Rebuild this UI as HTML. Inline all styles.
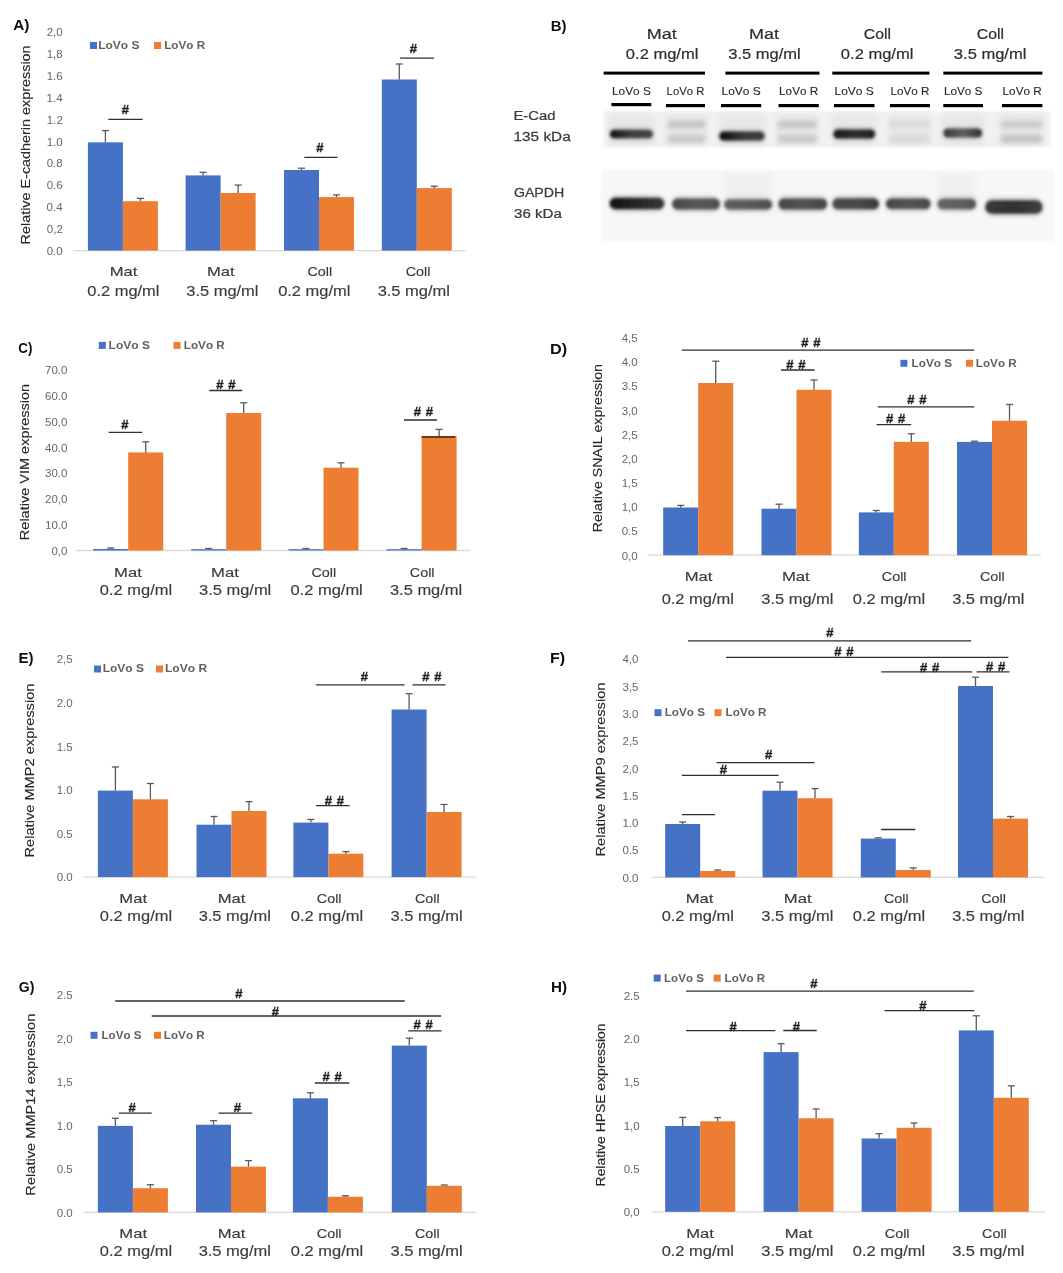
<!DOCTYPE html>
<html><head><meta charset="utf-8"><title>Figure</title>
<style>
html,body{margin:0;padding:0;background:#fff;width:1063px;height:1273px;overflow:hidden}
svg{display:block}
text{font-family:"Liberation Sans",sans-serif;font-kerning:none;white-space:pre}
</style></head><body>
<svg width="1063" height="1273" viewBox="0 0 1063 1273">
<defs>
<filter id="bl" x="-20%" y="-80%" width="140%" height="260%"><feGaussianBlur stdDeviation="1.5"/></filter>
<filter id="bl2" x="-5%" y="-20%" width="110%" height="140%"><feGaussianBlur stdDeviation="1.0"/></filter>
<filter id="bl4" x="-20%" y="-80%" width="140%" height="260%"><feGaussianBlur stdDeviation="1.8"/></filter>
<filter id="bl5" x="-20%" y="-100%" width="140%" height="300%"><feGaussianBlur stdDeviation="2.3"/></filter>
<filter id="bl3" x="-20%" y="-20%" width="140%" height="140%"><feGaussianBlur stdDeviation="2.0"/></filter>
<filter id="soft" x="0" y="0" width="1063" height="1273" filterUnits="userSpaceOnUse"><feGaussianBlur stdDeviation="0.4"/></filter>
<linearGradient id="g1" x1="0" x2="1" y1="0" y2="0"><stop offset="0" stop-color="#141414"/><stop offset="0.5" stop-color="#3e3e3e"/><stop offset="1" stop-color="#484848"/></linearGradient>
<linearGradient id="g2" x1="0" x2="1" y1="0" y2="0"><stop offset="0" stop-color="#0a0a0a"/><stop offset="0.5" stop-color="#383838"/><stop offset="1" stop-color="#404040"/></linearGradient>
<linearGradient id="g3" x1="0" x2="1" y1="0" y2="0"><stop offset="0" stop-color="#181818"/><stop offset="0.5" stop-color="#2e2e2e"/><stop offset="1" stop-color="#202020"/></linearGradient>
<linearGradient id="g4" x1="0" x2="1" y1="0" y2="0"><stop offset="0" stop-color="#383838"/><stop offset="0.5" stop-color="#606060"/><stop offset="1" stop-color="#303030"/></linearGradient>
<linearGradient id="g5" x1="0" x2="1" y1="0" y2="0"><stop offset="0" stop-color="#c6c6c6"/><stop offset="0.5" stop-color="#c6c6c6"/><stop offset="1" stop-color="#c6c6c6"/></linearGradient>
<linearGradient id="g6" x1="0" x2="1" y1="0" y2="0"><stop offset="0" stop-color="#cbcbcb"/><stop offset="0.5" stop-color="#cbcbcb"/><stop offset="1" stop-color="#cbcbcb"/></linearGradient>
<linearGradient id="g7" x1="0" x2="1" y1="0" y2="0"><stop offset="0" stop-color="#c8c8c8"/><stop offset="0.5" stop-color="#c8c8c8"/><stop offset="1" stop-color="#c8c8c8"/></linearGradient>
<linearGradient id="g8" x1="0" x2="1" y1="0" y2="0"><stop offset="0" stop-color="#cbcbcb"/><stop offset="0.5" stop-color="#cbcbcb"/><stop offset="1" stop-color="#cbcbcb"/></linearGradient>
<linearGradient id="g9" x1="0" x2="1" y1="0" y2="0"><stop offset="0" stop-color="#dcdcdc"/><stop offset="0.5" stop-color="#dcdcdc"/><stop offset="1" stop-color="#dcdcdc"/></linearGradient>
<linearGradient id="g10" x1="0" x2="1" y1="0" y2="0"><stop offset="0" stop-color="#dadada"/><stop offset="0.5" stop-color="#dadada"/><stop offset="1" stop-color="#dadada"/></linearGradient>
<linearGradient id="g11" x1="0" x2="1" y1="0" y2="0"><stop offset="0" stop-color="#cccccc"/><stop offset="0.5" stop-color="#cccccc"/><stop offset="1" stop-color="#cccccc"/></linearGradient>
<linearGradient id="g12" x1="0" x2="1" y1="0" y2="0"><stop offset="0" stop-color="#c6c6c6"/><stop offset="0.5" stop-color="#c6c6c6"/><stop offset="1" stop-color="#c6c6c6"/></linearGradient>
<linearGradient id="g13" x1="0" x2="1" y1="0" y2="0"><stop offset="0" stop-color="#101010"/><stop offset="0.5" stop-color="#262626"/><stop offset="1" stop-color="#363636"/></linearGradient>
<linearGradient id="g14" x1="0" x2="1" y1="0" y2="0"><stop offset="0" stop-color="#484848"/><stop offset="0.5" stop-color="#575757"/><stop offset="1" stop-color="#4e4e4e"/></linearGradient>
<linearGradient id="g15" x1="0" x2="1" y1="0" y2="0"><stop offset="0" stop-color="#5e5e5e"/><stop offset="0.5" stop-color="#5a5a5a"/><stop offset="1" stop-color="#4e4e4e"/></linearGradient>
<linearGradient id="g16" x1="0" x2="1" y1="0" y2="0"><stop offset="0" stop-color="#464646"/><stop offset="0.5" stop-color="#525252"/><stop offset="1" stop-color="#444444"/></linearGradient>
<linearGradient id="g17" x1="0" x2="1" y1="0" y2="0"><stop offset="0" stop-color="#4a4a4a"/><stop offset="0.5" stop-color="#4a4a4a"/><stop offset="1" stop-color="#383838"/></linearGradient>
<linearGradient id="g18" x1="0" x2="1" y1="0" y2="0"><stop offset="0" stop-color="#484848"/><stop offset="0.5" stop-color="#545454"/><stop offset="1" stop-color="#484848"/></linearGradient>
<linearGradient id="g19" x1="0" x2="1" y1="0" y2="0"><stop offset="0" stop-color="#656565"/><stop offset="0.5" stop-color="#606060"/><stop offset="1" stop-color="#555555"/></linearGradient>
<linearGradient id="g20" x1="0" x2="1" y1="0" y2="0"><stop offset="0" stop-color="#3a3a3a"/><stop offset="0.5" stop-color="#303030"/><stop offset="1" stop-color="#404040"/></linearGradient>
</defs>
<rect width="1063" height="1273" fill="#fff"/>
<g filter="url(#soft)">
<rect width="1063" height="1273" fill="#fff"/>
<g filter="url(#bl2)">
<rect x="603.5" y="111.2" width="447" height="36" fill="#f1f1f1"/>
<rect x="601" y="170.5" width="454" height="71" fill="#f7f7f7"/>
</g>
<g filter="url(#bl3)">
<rect x="608.5" y="114" width="46" height="31" fill="#e8e8e8"/>
<rect x="665.5" y="114" width="42" height="31" fill="#e8e8e8"/>
<rect x="718.5" y="114" width="47.5" height="31" fill="#e8e8e8"/>
<rect x="775.5" y="114" width="43.5" height="31" fill="#e8e8e8"/>
<rect x="832" y="114" width="44.5" height="31" fill="#e8e8e8"/>
<rect x="888.5" y="114" width="42.5" height="31" fill="#e8e8e8"/>
<rect x="941.5" y="114" width="42.5" height="31" fill="#e8e8e8"/>
<rect x="999" y="114" width="45" height="31" fill="#e8e8e8"/>
<rect x="724" y="172" width="48" height="26" fill="#f0f0f0"/>
<rect x="937" y="172" width="39" height="26" fill="#f0f0f0"/>
</g>
<rect x="609" y="127.5" width="45" height="13" rx="6.5" fill="#c8c8c8" filter="url(#bl5)"/>
<rect x="718.5" y="129.5" width="47" height="13" rx="6.5" fill="#c4c4c4" filter="url(#bl5)"/>
<rect x="832.5" y="127.5" width="43.5" height="13" rx="6.5" fill="#c4c4c4" filter="url(#bl5)"/>
<rect x="942.5" y="126.5" width="40.5" height="13" rx="6.5" fill="#cccccc" filter="url(#bl5)"/>
<rect x="610" y="129.75" width="43" height="8.5" rx="4.25" fill="url(#g1)" filter="url(#bl)"/>
<rect x="719.5" y="131.5" width="45" height="9" rx="4.5" fill="url(#g2)" filter="url(#bl)"/>
<rect x="833.5" y="129.5" width="41.5" height="9" rx="4.5" fill="url(#g3)" filter="url(#bl)"/>
<rect x="943.5" y="128.5" width="38.5" height="9" rx="4.5" fill="url(#g4)" filter="url(#bl)"/>
<rect x="667.7" y="120.5" width="37.8" height="8" rx="4" fill="url(#g5)" filter="url(#bl5)"/>
<rect x="667.7" y="134.55" width="37.8" height="8.5" rx="4.25" fill="url(#g6)" filter="url(#bl5)"/>
<rect x="777.4" y="120.5" width="39.6" height="8" rx="4" fill="url(#g7)" filter="url(#bl5)"/>
<rect x="777.4" y="134.55" width="39.6" height="8.5" rx="4.25" fill="url(#g8)" filter="url(#bl5)"/>
<rect x="889.7" y="120.5" width="39.6" height="8" rx="4" fill="url(#g9)" filter="url(#bl5)"/>
<rect x="889.7" y="134.55" width="39.6" height="8.5" rx="4.25" fill="url(#g10)" filter="url(#bl5)"/>
<rect x="1000.5" y="120.5" width="42" height="8" rx="4" fill="url(#g11)" filter="url(#bl5)"/>
<rect x="1000.5" y="134.55" width="42" height="8.5" rx="4.25" fill="url(#g12)" filter="url(#bl5)"/>
<rect x="608.8" y="194.9" width="56.4" height="17" rx="8.5" fill="#d0d0d0" filter="url(#bl5)"/>
<rect x="671.2" y="195.75" width="49.6" height="16.5" rx="8.25" fill="#d0d0d0" filter="url(#bl5)"/>
<rect x="723.3" y="196.75" width="49.7" height="15.5" rx="7.75" fill="#d0d0d0" filter="url(#bl5)"/>
<rect x="777.5" y="195.75" width="50.5" height="16.5" rx="8.25" fill="#d0d0d0" filter="url(#bl5)"/>
<rect x="831.5" y="195.55" width="48.5" height="16.5" rx="8.25" fill="#d0d0d0" filter="url(#bl5)"/>
<rect x="885" y="195.8" width="46.5" height="16" rx="8" fill="#d0d0d0" filter="url(#bl5)"/>
<rect x="936.5" y="196" width="40.5" height="16" rx="8" fill="#d0d0d0" filter="url(#bl5)"/>
<rect x="984.3" y="197.5" width="59.2" height="19" rx="9.5" fill="#d0d0d0" filter="url(#bl5)"/>
<rect x="609.8" y="197.65" width="54.4" height="11.5" rx="5.75" fill="url(#g13)" filter="url(#bl)"/>
<rect x="672.2" y="198.5" width="47.6" height="11" rx="5.5" fill="url(#g14)" filter="url(#bl)"/>
<rect x="724.3" y="199.5" width="47.7" height="10" rx="5" fill="url(#g15)" filter="url(#bl)"/>
<rect x="778.5" y="198.5" width="48.5" height="11" rx="5.5" fill="url(#g16)" filter="url(#bl)"/>
<rect x="832.5" y="198.3" width="46.5" height="11" rx="5.5" fill="url(#g17)" filter="url(#bl)"/>
<rect x="886" y="198.55" width="44.5" height="10.5" rx="5.25" fill="url(#g18)" filter="url(#bl)"/>
<rect x="937.5" y="198.75" width="38.5" height="10.5" rx="5.25" fill="url(#g19)" filter="url(#bl)"/>
<rect x="985.3" y="200.25" width="57.2" height="13.5" rx="6.75" fill="url(#g20)" filter="url(#bl)"/>
<line x1="73.4" y1="250.6" x2="465.7" y2="250.6" stroke="#D9D9D9" stroke-width="1.3"/>
<text transform="matrix(1 0 0 1 46.66 254.96)" font-size="11.5" font-weight="normal" fill="#666666">0.0</text>
<text transform="matrix(1 0 0 1 46.79 233.09)" font-size="11.5" font-weight="normal" fill="#666666">0,2</text>
<text transform="matrix(1 0 0 1 46.55 211.22)" font-size="11.5" font-weight="normal" fill="#666666">0.4</text>
<text transform="matrix(1 0 0 1 46.72 189.35)" font-size="11.5" font-weight="normal" fill="#666666">0.6</text>
<text transform="matrix(1 0 0 1 46.71 167.48)" font-size="11.5" font-weight="normal" fill="#666666">0.8</text>
<text transform="matrix(1 0 0 1 46.66 145.61)" font-size="11.5" font-weight="normal" fill="#666666">1.0</text>
<text transform="matrix(1 0 0 1 46.79 123.74)" font-size="11.5" font-weight="normal" fill="#666666">1.2</text>
<text transform="matrix(1 0 0 1 46.55 101.87)" font-size="11.5" font-weight="normal" fill="#666666">1.4</text>
<text transform="matrix(1 0 0 1 46.72 80)" font-size="11.5" font-weight="normal" fill="#666666">1.6</text>
<text transform="matrix(1 0 0 1 46.71 58.13)" font-size="11.5" font-weight="normal" fill="#666666">1,8</text>
<text transform="matrix(1 0 0 1 46.66 36.26)" font-size="11.5" font-weight="normal" fill="#666666">2,0</text>
<rect x="87.9" y="142.3" width="35" height="108.3" fill="#4472C4"/>
<line x1="105.4" y1="142.3" x2="105.4" y2="130.6" stroke="#5a5a5a" stroke-width="1.3"/>
<line x1="101.9" y1="130.6" x2="108.9" y2="130.6" stroke="#5a5a5a" stroke-width="1.3"/>
<rect x="122.9" y="201.2" width="35" height="49.4" fill="#ED7D31"/>
<line x1="140.4" y1="201.2" x2="140.4" y2="198.4" stroke="#5a5a5a" stroke-width="1.3"/>
<line x1="136.9" y1="198.4" x2="143.9" y2="198.4" stroke="#5a5a5a" stroke-width="1.3"/>
<rect x="185.6" y="175.4" width="35" height="75.2" fill="#4472C4"/>
<line x1="203.1" y1="175.4" x2="203.1" y2="172.3" stroke="#5a5a5a" stroke-width="1.3"/>
<line x1="199.6" y1="172.3" x2="206.6" y2="172.3" stroke="#5a5a5a" stroke-width="1.3"/>
<rect x="220.6" y="193" width="35" height="57.6" fill="#ED7D31"/>
<line x1="238.1" y1="193" x2="238.1" y2="185.1" stroke="#5a5a5a" stroke-width="1.3"/>
<line x1="234.6" y1="185.1" x2="241.6" y2="185.1" stroke="#5a5a5a" stroke-width="1.3"/>
<rect x="284" y="170" width="35" height="80.6" fill="#4472C4"/>
<line x1="301.5" y1="170" x2="301.5" y2="168.2" stroke="#5a5a5a" stroke-width="1.3"/>
<line x1="298" y1="168.2" x2="305" y2="168.2" stroke="#5a5a5a" stroke-width="1.3"/>
<rect x="319" y="197.1" width="35" height="53.5" fill="#ED7D31"/>
<line x1="336.5" y1="197.1" x2="336.5" y2="194.9" stroke="#5a5a5a" stroke-width="1.3"/>
<line x1="333" y1="194.9" x2="340" y2="194.9" stroke="#5a5a5a" stroke-width="1.3"/>
<rect x="381.8" y="79.5" width="35" height="171.1" fill="#4472C4"/>
<line x1="399.3" y1="79.5" x2="399.3" y2="64" stroke="#5a5a5a" stroke-width="1.3"/>
<line x1="395.8" y1="64" x2="402.8" y2="64" stroke="#5a5a5a" stroke-width="1.3"/>
<rect x="416.8" y="188.1" width="35" height="62.5" fill="#ED7D31"/>
<line x1="434.3" y1="188.1" x2="434.3" y2="186.3" stroke="#5a5a5a" stroke-width="1.3"/>
<line x1="430.8" y1="186.3" x2="437.8" y2="186.3" stroke="#5a5a5a" stroke-width="1.3"/>
<line x1="108.2" y1="119.4" x2="142.6" y2="119.4" stroke="#2e2e2e" stroke-width="1.3"/>
<text transform="matrix(1.02 0 0 1 121.65 114.2)" font-size="12.8" font-weight="bold" fill="#1f1f1f" stroke="#1f1f1f" stroke-width="0.35">#</text>
<line x1="304.3" y1="157.4" x2="337.5" y2="157.4" stroke="#2e2e2e" stroke-width="1.3"/>
<text transform="matrix(1.02 0 0 1 316.35 152.3)" font-size="12.8" font-weight="bold" fill="#1f1f1f" stroke="#1f1f1f" stroke-width="0.35">#</text>
<line x1="400" y1="58.2" x2="434" y2="58.2" stroke="#2e2e2e" stroke-width="1.3"/>
<text transform="matrix(1.02 0 0 1 409.75 52.9)" font-size="12.8" font-weight="bold" fill="#1f1f1f" stroke="#1f1f1f" stroke-width="0.35">#</text>
<text transform="matrix(1.25 0 0 1 109.67 275.8)" font-size="13.3" font-weight="normal" fill="#3b3b3b" stroke="#3b3b3b" stroke-width="0.15">Mat</text>
<text transform="matrix(1.16 0 0 1 87.23 295.5)" font-size="14.2" font-weight="normal" fill="#3b3b3b" stroke="#3b3b3b" stroke-width="0.15">0.2 mg/ml</text>
<text transform="matrix(1.25 0 0 1 206.97 275.8)" font-size="13.3" font-weight="normal" fill="#3b3b3b" stroke="#3b3b3b" stroke-width="0.15">Mat</text>
<text transform="matrix(1.16 0 0 1 186.25 295.5)" font-size="14.2" font-weight="normal" fill="#3b3b3b" stroke="#3b3b3b" stroke-width="0.15">3.5 mg/ml</text>
<text transform="matrix(1.08 0 0 1 307.39 275.8)" font-size="13.3" font-weight="normal" fill="#3b3b3b" stroke="#3b3b3b" stroke-width="0.15">Coll</text>
<text transform="matrix(1.16 0 0 1 278.13 295.5)" font-size="14.2" font-weight="normal" fill="#3b3b3b" stroke="#3b3b3b" stroke-width="0.15">0.2 mg/ml</text>
<text transform="matrix(1.08 0 0 1 405.69 275.8)" font-size="13.3" font-weight="normal" fill="#3b3b3b" stroke="#3b3b3b" stroke-width="0.15">Coll</text>
<text transform="matrix(1.16 0 0 1 377.65 295.5)" font-size="14.2" font-weight="normal" fill="#3b3b3b" stroke="#3b3b3b" stroke-width="0.15">3.5 mg/ml</text>
<rect x="90" y="42" width="7" height="7" fill="#4472C4"/>
<text transform="matrix(1.2 0 0 1 98.2 48.94)" font-size="10" font-weight="bold" fill="#5f5f5f">LoVo S</text>
<rect x="154" y="42" width="7" height="7" fill="#ED7D31"/>
<text transform="matrix(1.17 0 0 1 164.22 48.94)" font-size="10" font-weight="bold" fill="#5f5f5f">LoVo R</text>
<text transform="translate(29.9 244.42) rotate(-90) scale(1.17 1)" font-size="12.3" font-weight="normal" fill="#262626" stroke="#262626" stroke-width="0.12">Relative E-cadherin expression</text>
<text transform="matrix(1.06 0 0 1 13.22 29.75)" font-size="14.5" font-weight="bold" fill="#111111">A)</text>
<line x1="76.4" y1="550.5" x2="470.5" y2="550.5" stroke="#D9D9D9" stroke-width="1.3"/>
<text transform="matrix(1 0 0 1 51.46 554.86)" font-size="11.5" font-weight="normal" fill="#666666">0,0</text>
<text transform="matrix(1 0 0 1 45.07 529.06)" font-size="11.5" font-weight="normal" fill="#666666">10.0</text>
<text transform="matrix(1 0 0 1 45.07 503.26)" font-size="11.5" font-weight="normal" fill="#666666">20,0</text>
<text transform="matrix(1 0 0 1 45.07 477.46)" font-size="11.5" font-weight="normal" fill="#666666">30.0</text>
<text transform="matrix(1 0 0 1 45.07 451.66)" font-size="11.5" font-weight="normal" fill="#666666">40.0</text>
<text transform="matrix(1 0 0 1 45.07 425.86)" font-size="11.5" font-weight="normal" fill="#666666">50,0</text>
<text transform="matrix(1 0 0 1 45.07 400.06)" font-size="11.5" font-weight="normal" fill="#666666">60.0</text>
<text transform="matrix(1 0 0 1 45.07 374.26)" font-size="11.5" font-weight="normal" fill="#666666">70.0</text>
<rect x="93.2" y="549" width="35" height="1.5" fill="#4472C4"/>
<line x1="110.7" y1="549" x2="110.7" y2="548" stroke="#5a5a5a" stroke-width="1.3"/>
<line x1="107.2" y1="548" x2="114.2" y2="548" stroke="#5a5a5a" stroke-width="1.3"/>
<rect x="128.2" y="452.4" width="35" height="98.1" fill="#ED7D31"/>
<line x1="145.7" y1="452.4" x2="145.7" y2="441.8" stroke="#5a5a5a" stroke-width="1.3"/>
<line x1="142.2" y1="441.8" x2="149.2" y2="441.8" stroke="#5a5a5a" stroke-width="1.3"/>
<rect x="191.2" y="549.2" width="35" height="1.3" fill="#4472C4"/>
<line x1="208.7" y1="549.2" x2="208.7" y2="548.5" stroke="#5a5a5a" stroke-width="1.3"/>
<line x1="205.2" y1="548.5" x2="212.2" y2="548.5" stroke="#5a5a5a" stroke-width="1.3"/>
<rect x="226.2" y="413" width="35" height="137.5" fill="#ED7D31"/>
<line x1="243.7" y1="413" x2="243.7" y2="402.8" stroke="#5a5a5a" stroke-width="1.3"/>
<line x1="240.2" y1="402.8" x2="247.2" y2="402.8" stroke="#5a5a5a" stroke-width="1.3"/>
<rect x="288.5" y="549.2" width="35" height="1.3" fill="#4472C4"/>
<line x1="306" y1="549.2" x2="306" y2="548.5" stroke="#5a5a5a" stroke-width="1.3"/>
<line x1="302.5" y1="548.5" x2="309.5" y2="548.5" stroke="#5a5a5a" stroke-width="1.3"/>
<rect x="323.5" y="467.7" width="35" height="82.8" fill="#ED7D31"/>
<line x1="341" y1="467.7" x2="341" y2="462.8" stroke="#5a5a5a" stroke-width="1.3"/>
<line x1="337.5" y1="462.8" x2="344.5" y2="462.8" stroke="#5a5a5a" stroke-width="1.3"/>
<rect x="386.6" y="549.2" width="35" height="1.3" fill="#4472C4"/>
<line x1="404.1" y1="549.2" x2="404.1" y2="548.5" stroke="#5a5a5a" stroke-width="1.3"/>
<line x1="400.6" y1="548.5" x2="407.6" y2="548.5" stroke="#5a5a5a" stroke-width="1.3"/>
<rect x="421.6" y="436" width="35" height="114.5" fill="#ED7D31"/>
<line x1="439.1" y1="436" x2="439.1" y2="429.4" stroke="#5a5a5a" stroke-width="1.3"/>
<line x1="435.6" y1="429.4" x2="442.6" y2="429.4" stroke="#5a5a5a" stroke-width="1.3"/>
<line x1="108.7" y1="432.4" x2="142.3" y2="432.4" stroke="#2e2e2e" stroke-width="1.3"/>
<text transform="matrix(1.02 0 0 1 121.35 429.1)" font-size="12.8" font-weight="bold" fill="#1f1f1f" stroke="#1f1f1f" stroke-width="0.35">#</text>
<line x1="209.3" y1="390.5" x2="242.2" y2="390.5" stroke="#2e2e2e" stroke-width="1.3"/>
<text transform="matrix(1.02 0 0 1 216.15 389.1)" font-size="12.8" font-weight="bold" fill="#1f1f1f" stroke="#1f1f1f" stroke-width="0.35">#</text>
<text transform="matrix(1.02 0 0 1 228.15 389.1)" font-size="12.8" font-weight="bold" fill="#1f1f1f" stroke="#1f1f1f" stroke-width="0.35">#</text>
<line x1="404" y1="420" x2="437" y2="420" stroke="#2e2e2e" stroke-width="1.3"/>
<text transform="matrix(1.02 0 0 1 413.75 416.1)" font-size="12.8" font-weight="bold" fill="#1f1f1f" stroke="#1f1f1f" stroke-width="0.35">#</text>
<text transform="matrix(1.02 0 0 1 425.75 416.1)" font-size="12.8" font-weight="bold" fill="#1f1f1f" stroke="#1f1f1f" stroke-width="0.35">#</text>
<text transform="matrix(1.25 0 0 1 114.07 576.5)" font-size="13.3" font-weight="normal" fill="#3b3b3b" stroke="#3b3b3b" stroke-width="0.15">Mat</text>
<text transform="matrix(1.16 0 0 1 99.83 595.4)" font-size="14.2" font-weight="normal" fill="#3b3b3b" stroke="#3b3b3b" stroke-width="0.15">0.2 mg/ml</text>
<text transform="matrix(1.25 0 0 1 211.07 576.5)" font-size="13.3" font-weight="normal" fill="#3b3b3b" stroke="#3b3b3b" stroke-width="0.15">Mat</text>
<text transform="matrix(1.16 0 0 1 199.05 595.4)" font-size="14.2" font-weight="normal" fill="#3b3b3b" stroke="#3b3b3b" stroke-width="0.15">3.5 mg/ml</text>
<text transform="matrix(1.08 0 0 1 311.49 576.5)" font-size="13.3" font-weight="normal" fill="#3b3b3b" stroke="#3b3b3b" stroke-width="0.15">Coll</text>
<text transform="matrix(1.16 0 0 1 290.53 595.4)" font-size="14.2" font-weight="normal" fill="#3b3b3b" stroke="#3b3b3b" stroke-width="0.15">0.2 mg/ml</text>
<text transform="matrix(1.08 0 0 1 409.79 576.5)" font-size="13.3" font-weight="normal" fill="#3b3b3b" stroke="#3b3b3b" stroke-width="0.15">Coll</text>
<text transform="matrix(1.16 0 0 1 389.95 595.4)" font-size="14.2" font-weight="normal" fill="#3b3b3b" stroke="#3b3b3b" stroke-width="0.15">3.5 mg/ml</text>
<rect x="98.8" y="341.9" width="7" height="7" fill="#4472C4"/>
<text transform="matrix(1.2 0 0 1 108.6 348.84)" font-size="10" font-weight="bold" fill="#5f5f5f">LoVo S</text>
<rect x="173.5" y="341.9" width="7" height="7" fill="#ED7D31"/>
<text transform="matrix(1.17 0 0 1 183.82 348.84)" font-size="10" font-weight="bold" fill="#5f5f5f">LoVo R</text>
<text transform="translate(29 540.14) rotate(-90) scale(1.18 1)" font-size="12.3" font-weight="normal" fill="#262626" stroke="#262626" stroke-width="0.12">Relative VIM expression</text>
<text transform="matrix(0.92 0 0 1 18.25 353)" font-size="14.5" font-weight="bold" fill="#111111">C)</text>
<line x1="647.6" y1="555.2" x2="1040.9" y2="555.2" stroke="#D9D9D9" stroke-width="1.3"/>
<text transform="matrix(1 0 0 1 621.66 559.56)" font-size="11.5" font-weight="normal" fill="#666666">0,0</text>
<text transform="matrix(1 0 0 1 621.7 535.39)" font-size="11.5" font-weight="normal" fill="#666666">0.5</text>
<text transform="matrix(1 0 0 1 621.66 511.22)" font-size="11.5" font-weight="normal" fill="#666666">1,0</text>
<text transform="matrix(1 0 0 1 621.7 487.05)" font-size="11.5" font-weight="normal" fill="#666666">1,5</text>
<text transform="matrix(1 0 0 1 621.66 462.88)" font-size="11.5" font-weight="normal" fill="#666666">2,0</text>
<text transform="matrix(1 0 0 1 621.7 438.71)" font-size="11.5" font-weight="normal" fill="#666666">2,5</text>
<text transform="matrix(1 0 0 1 621.66 414.54)" font-size="11.5" font-weight="normal" fill="#666666">3,0</text>
<text transform="matrix(1 0 0 1 621.7 390.37)" font-size="11.5" font-weight="normal" fill="#666666">3.5</text>
<text transform="matrix(1 0 0 1 621.66 366.2)" font-size="11.5" font-weight="normal" fill="#666666">4.0</text>
<text transform="matrix(1 0 0 1 621.7 342.03)" font-size="11.5" font-weight="normal" fill="#666666">4,5</text>
<rect x="663.2" y="507.5" width="35" height="47.7" fill="#4472C4"/>
<line x1="680.7" y1="507.5" x2="680.7" y2="505.4" stroke="#5a5a5a" stroke-width="1.3"/>
<line x1="677.2" y1="505.4" x2="684.2" y2="505.4" stroke="#5a5a5a" stroke-width="1.3"/>
<rect x="698.2" y="383" width="35" height="172.2" fill="#ED7D31"/>
<line x1="715.7" y1="383" x2="715.7" y2="361.2" stroke="#5a5a5a" stroke-width="1.3"/>
<line x1="712.2" y1="361.2" x2="719.2" y2="361.2" stroke="#5a5a5a" stroke-width="1.3"/>
<rect x="761.5" y="508.7" width="35" height="46.5" fill="#4472C4"/>
<line x1="779" y1="508.7" x2="779" y2="504.2" stroke="#5a5a5a" stroke-width="1.3"/>
<line x1="775.5" y1="504.2" x2="782.5" y2="504.2" stroke="#5a5a5a" stroke-width="1.3"/>
<rect x="796.5" y="389.8" width="35" height="165.4" fill="#ED7D31"/>
<line x1="814" y1="389.8" x2="814" y2="380" stroke="#5a5a5a" stroke-width="1.3"/>
<line x1="810.5" y1="380" x2="817.5" y2="380" stroke="#5a5a5a" stroke-width="1.3"/>
<rect x="858.8" y="512.4" width="35" height="42.8" fill="#4472C4"/>
<line x1="876.3" y1="512.4" x2="876.3" y2="510.5" stroke="#5a5a5a" stroke-width="1.3"/>
<line x1="872.8" y1="510.5" x2="879.8" y2="510.5" stroke="#5a5a5a" stroke-width="1.3"/>
<rect x="893.8" y="441.9" width="35" height="113.3" fill="#ED7D31"/>
<line x1="911.3" y1="441.9" x2="911.3" y2="433.8" stroke="#5a5a5a" stroke-width="1.3"/>
<line x1="907.8" y1="433.8" x2="914.8" y2="433.8" stroke="#5a5a5a" stroke-width="1.3"/>
<rect x="957" y="441.9" width="35" height="113.3" fill="#4472C4"/>
<line x1="974.5" y1="441.9" x2="974.5" y2="441.2" stroke="#5a5a5a" stroke-width="1.3"/>
<line x1="971" y1="441.2" x2="978" y2="441.2" stroke="#5a5a5a" stroke-width="1.3"/>
<rect x="992" y="420.7" width="35" height="134.5" fill="#ED7D31"/>
<line x1="1009.5" y1="420.7" x2="1009.5" y2="404.5" stroke="#5a5a5a" stroke-width="1.3"/>
<line x1="1006" y1="404.5" x2="1013" y2="404.5" stroke="#5a5a5a" stroke-width="1.3"/>
<line x1="681.7" y1="350.1" x2="974.2" y2="350.1" stroke="#2e2e2e" stroke-width="1.3"/>
<text transform="matrix(1.02 0 0 1 801.35 346.9)" font-size="12.8" font-weight="bold" fill="#1f1f1f" stroke="#1f1f1f" stroke-width="0.35">#</text>
<text transform="matrix(1.02 0 0 1 813.35 346.9)" font-size="12.8" font-weight="bold" fill="#1f1f1f" stroke="#1f1f1f" stroke-width="0.35">#</text>
<line x1="781" y1="370" x2="814.6" y2="370" stroke="#2e2e2e" stroke-width="1.3"/>
<text transform="matrix(1.02 0 0 1 786.15 368.6)" font-size="12.8" font-weight="bold" fill="#1f1f1f" stroke="#1f1f1f" stroke-width="0.35">#</text>
<text transform="matrix(1.02 0 0 1 798.15 368.6)" font-size="12.8" font-weight="bold" fill="#1f1f1f" stroke="#1f1f1f" stroke-width="0.35">#</text>
<line x1="877.8" y1="406.9" x2="974.2" y2="406.9" stroke="#2e2e2e" stroke-width="1.3"/>
<text transform="matrix(1.02 0 0 1 907.35 404.1)" font-size="12.8" font-weight="bold" fill="#1f1f1f" stroke="#1f1f1f" stroke-width="0.35">#</text>
<text transform="matrix(1.02 0 0 1 919.35 404.1)" font-size="12.8" font-weight="bold" fill="#1f1f1f" stroke="#1f1f1f" stroke-width="0.35">#</text>
<line x1="876.6" y1="424.7" x2="911.2" y2="424.7" stroke="#2e2e2e" stroke-width="1.3"/>
<text transform="matrix(1.02 0 0 1 886.05 423.2)" font-size="12.8" font-weight="bold" fill="#1f1f1f" stroke="#1f1f1f" stroke-width="0.35">#</text>
<text transform="matrix(1.02 0 0 1 898.05 423.2)" font-size="12.8" font-weight="bold" fill="#1f1f1f" stroke="#1f1f1f" stroke-width="0.35">#</text>
<text transform="matrix(1.25 0 0 1 684.67 581.1)" font-size="13.3" font-weight="normal" fill="#3b3b3b" stroke="#3b3b3b" stroke-width="0.15">Mat</text>
<text transform="matrix(1.16 0 0 1 661.63 604.2)" font-size="14.2" font-weight="normal" fill="#3b3b3b" stroke="#3b3b3b" stroke-width="0.15">0.2 mg/ml</text>
<text transform="matrix(1.25 0 0 1 781.97 581.1)" font-size="13.3" font-weight="normal" fill="#3b3b3b" stroke="#3b3b3b" stroke-width="0.15">Mat</text>
<text transform="matrix(1.16 0 0 1 761.25 604.2)" font-size="14.2" font-weight="normal" fill="#3b3b3b" stroke="#3b3b3b" stroke-width="0.15">3.5 mg/ml</text>
<text transform="matrix(1.08 0 0 1 881.79 581.1)" font-size="13.3" font-weight="normal" fill="#3b3b3b" stroke="#3b3b3b" stroke-width="0.15">Coll</text>
<text transform="matrix(1.16 0 0 1 852.83 604.2)" font-size="14.2" font-weight="normal" fill="#3b3b3b" stroke="#3b3b3b" stroke-width="0.15">0.2 mg/ml</text>
<text transform="matrix(1.08 0 0 1 979.99 581.1)" font-size="13.3" font-weight="normal" fill="#3b3b3b" stroke="#3b3b3b" stroke-width="0.15">Coll</text>
<text transform="matrix(1.16 0 0 1 952.15 604.2)" font-size="14.2" font-weight="normal" fill="#3b3b3b" stroke="#3b3b3b" stroke-width="0.15">3.5 mg/ml</text>
<rect x="900.4" y="359.8" width="7" height="7" fill="#4472C4"/>
<text transform="matrix(1.18 0 0 1 911.51 366.74)" font-size="10" font-weight="bold" fill="#5f5f5f">LoVo S</text>
<rect x="966" y="359.8" width="7" height="7" fill="#ED7D31"/>
<text transform="matrix(1.17 0 0 1 975.82 366.74)" font-size="10" font-weight="bold" fill="#5f5f5f">LoVo R</text>
<text transform="translate(601.5 532.3) rotate(-90) scale(1.15 1)" font-size="12.3" font-weight="normal" fill="#262626" stroke="#262626" stroke-width="0.12">Relative SNAIL expression</text>
<text transform="matrix(1.12 0 0 1 550.01 353.5)" font-size="14.5" font-weight="bold" fill="#111111">D)</text>
<line x1="83.5" y1="877.1" x2="475.6" y2="877.1" stroke="#D9D9D9" stroke-width="1.3"/>
<text transform="matrix(1 0 0 1 56.66 881.46)" font-size="11.5" font-weight="normal" fill="#666666">0.0</text>
<text transform="matrix(1 0 0 1 56.7 837.86)" font-size="11.5" font-weight="normal" fill="#666666">0.5</text>
<text transform="matrix(1 0 0 1 56.66 794.26)" font-size="11.5" font-weight="normal" fill="#666666">1.0</text>
<text transform="matrix(1 0 0 1 56.7 750.66)" font-size="11.5" font-weight="normal" fill="#666666">1.5</text>
<text transform="matrix(1 0 0 1 56.66 707.06)" font-size="11.5" font-weight="normal" fill="#666666">2.0</text>
<text transform="matrix(1 0 0 1 56.7 663.46)" font-size="11.5" font-weight="normal" fill="#666666">2,5</text>
<rect x="97.9" y="790.6" width="35" height="86.5" fill="#4472C4"/>
<line x1="115.4" y1="790.6" x2="115.4" y2="767" stroke="#5a5a5a" stroke-width="1.3"/>
<line x1="111.9" y1="767" x2="118.9" y2="767" stroke="#5a5a5a" stroke-width="1.3"/>
<rect x="132.9" y="799.3" width="35" height="77.8" fill="#ED7D31"/>
<line x1="150.4" y1="799.3" x2="150.4" y2="783.5" stroke="#5a5a5a" stroke-width="1.3"/>
<line x1="146.9" y1="783.5" x2="153.9" y2="783.5" stroke="#5a5a5a" stroke-width="1.3"/>
<rect x="196.5" y="824.7" width="35" height="52.4" fill="#4472C4"/>
<line x1="214" y1="824.7" x2="214" y2="816.5" stroke="#5a5a5a" stroke-width="1.3"/>
<line x1="210.5" y1="816.5" x2="217.5" y2="816.5" stroke="#5a5a5a" stroke-width="1.3"/>
<rect x="231.5" y="811" width="35" height="66.1" fill="#ED7D31"/>
<line x1="249" y1="811" x2="249" y2="801.6" stroke="#5a5a5a" stroke-width="1.3"/>
<line x1="245.5" y1="801.6" x2="252.5" y2="801.6" stroke="#5a5a5a" stroke-width="1.3"/>
<rect x="293.4" y="822.6" width="35" height="54.5" fill="#4472C4"/>
<line x1="310.9" y1="822.6" x2="310.9" y2="819.5" stroke="#5a5a5a" stroke-width="1.3"/>
<line x1="307.4" y1="819.5" x2="314.4" y2="819.5" stroke="#5a5a5a" stroke-width="1.3"/>
<rect x="328.4" y="853.7" width="35" height="23.4" fill="#ED7D31"/>
<line x1="345.9" y1="853.7" x2="345.9" y2="851.6" stroke="#5a5a5a" stroke-width="1.3"/>
<line x1="342.4" y1="851.6" x2="349.4" y2="851.6" stroke="#5a5a5a" stroke-width="1.3"/>
<rect x="391.6" y="709.5" width="35" height="167.6" fill="#4472C4"/>
<line x1="409.1" y1="709.5" x2="409.1" y2="693.7" stroke="#5a5a5a" stroke-width="1.3"/>
<line x1="405.6" y1="693.7" x2="412.6" y2="693.7" stroke="#5a5a5a" stroke-width="1.3"/>
<rect x="426.6" y="812" width="35" height="65.1" fill="#ED7D31"/>
<line x1="444.1" y1="812" x2="444.1" y2="804.5" stroke="#5a5a5a" stroke-width="1.3"/>
<line x1="440.6" y1="804.5" x2="447.6" y2="804.5" stroke="#5a5a5a" stroke-width="1.3"/>
<line x1="315.9" y1="684.8" x2="404.5" y2="684.8" stroke="#2e2e2e" stroke-width="1.3"/>
<text transform="matrix(1.02 0 0 1 360.75 680.9)" font-size="12.8" font-weight="bold" fill="#1f1f1f" stroke="#1f1f1f" stroke-width="0.35">#</text>
<line x1="412.5" y1="684.8" x2="445.5" y2="684.8" stroke="#2e2e2e" stroke-width="1.3"/>
<text transform="matrix(1.02 0 0 1 422.35 680.9)" font-size="12.8" font-weight="bold" fill="#1f1f1f" stroke="#1f1f1f" stroke-width="0.35">#</text>
<text transform="matrix(1.02 0 0 1 434.35 680.9)" font-size="12.8" font-weight="bold" fill="#1f1f1f" stroke="#1f1f1f" stroke-width="0.35">#</text>
<line x1="315.9" y1="805.6" x2="349.6" y2="805.6" stroke="#2e2e2e" stroke-width="1.3"/>
<text transform="matrix(1.02 0 0 1 324.65 805.4)" font-size="12.8" font-weight="bold" fill="#1f1f1f" stroke="#1f1f1f" stroke-width="0.35">#</text>
<text transform="matrix(1.02 0 0 1 336.65 805.4)" font-size="12.8" font-weight="bold" fill="#1f1f1f" stroke="#1f1f1f" stroke-width="0.35">#</text>
<text transform="matrix(1.25 0 0 1 119.37 902.8)" font-size="13.3" font-weight="normal" fill="#3b3b3b" stroke="#3b3b3b" stroke-width="0.15">Mat</text>
<text transform="matrix(1.16 0 0 1 99.83 921.2)" font-size="14.2" font-weight="normal" fill="#3b3b3b" stroke="#3b3b3b" stroke-width="0.15">0.2 mg/ml</text>
<text transform="matrix(1.25 0 0 1 217.67 902.8)" font-size="13.3" font-weight="normal" fill="#3b3b3b" stroke="#3b3b3b" stroke-width="0.15">Mat</text>
<text transform="matrix(1.16 0 0 1 198.65 921.2)" font-size="14.2" font-weight="normal" fill="#3b3b3b" stroke="#3b3b3b" stroke-width="0.15">3.5 mg/ml</text>
<text transform="matrix(1.08 0 0 1 316.79 902.8)" font-size="13.3" font-weight="normal" fill="#3b3b3b" stroke="#3b3b3b" stroke-width="0.15">Coll</text>
<text transform="matrix(1.16 0 0 1 290.83 921.2)" font-size="14.2" font-weight="normal" fill="#3b3b3b" stroke="#3b3b3b" stroke-width="0.15">0.2 mg/ml</text>
<text transform="matrix(1.08 0 0 1 414.99 902.8)" font-size="13.3" font-weight="normal" fill="#3b3b3b" stroke="#3b3b3b" stroke-width="0.15">Coll</text>
<text transform="matrix(1.16 0 0 1 390.45 921.2)" font-size="14.2" font-weight="normal" fill="#3b3b3b" stroke="#3b3b3b" stroke-width="0.15">3.5 mg/ml</text>
<rect x="94" y="665.5" width="7" height="7" fill="#4472C4"/>
<text transform="matrix(1.2 0 0 1 102.7 672.44)" font-size="10" font-weight="bold" fill="#5f5f5f">LoVo S</text>
<rect x="156" y="665.5" width="7" height="7" fill="#ED7D31"/>
<text transform="matrix(1.21 0 0 1 164.99 672.44)" font-size="10" font-weight="bold" fill="#5f5f5f">LoVo R</text>
<text transform="translate(34.2 857.44) rotate(-90) scale(1.19 1)" font-size="12.3" font-weight="normal" fill="#262626" stroke="#262626" stroke-width="0.12">Relative MMP2 expression</text>
<text transform="matrix(1.04 0 0 1 18.39 662.5)" font-size="14.5" font-weight="bold" fill="#111111">E)</text>
<line x1="651.3" y1="877.4" x2="1043.6" y2="877.4" stroke="#D9D9D9" stroke-width="1.3"/>
<text transform="matrix(1 0 0 1 622.46 881.76)" font-size="11.5" font-weight="normal" fill="#666666">0.0</text>
<text transform="matrix(1 0 0 1 622.5 854.46)" font-size="11.5" font-weight="normal" fill="#666666">0.5</text>
<text transform="matrix(1 0 0 1 622.46 827.16)" font-size="11.5" font-weight="normal" fill="#666666">1.0</text>
<text transform="matrix(1 0 0 1 622.5 799.86)" font-size="11.5" font-weight="normal" fill="#666666">1.5</text>
<text transform="matrix(1 0 0 1 622.46 772.56)" font-size="11.5" font-weight="normal" fill="#666666">2,0</text>
<text transform="matrix(1 0 0 1 622.5 745.26)" font-size="11.5" font-weight="normal" fill="#666666">2,5</text>
<text transform="matrix(1 0 0 1 622.46 717.96)" font-size="11.5" font-weight="normal" fill="#666666">3.0</text>
<text transform="matrix(1 0 0 1 622.5 690.66)" font-size="11.5" font-weight="normal" fill="#666666">3,5</text>
<text transform="matrix(1 0 0 1 622.46 663.36)" font-size="11.5" font-weight="normal" fill="#666666">4,0</text>
<rect x="665.2" y="824" width="35" height="53.4" fill="#4472C4"/>
<line x1="682.7" y1="824" x2="682.7" y2="822" stroke="#5a5a5a" stroke-width="1.3"/>
<line x1="679.2" y1="822" x2="686.2" y2="822" stroke="#5a5a5a" stroke-width="1.3"/>
<rect x="700.2" y="871" width="35" height="6.4" fill="#ED7D31"/>
<line x1="717.7" y1="871" x2="717.7" y2="870" stroke="#5a5a5a" stroke-width="1.3"/>
<line x1="714.2" y1="870" x2="721.2" y2="870" stroke="#5a5a5a" stroke-width="1.3"/>
<rect x="762.5" y="790.7" width="35" height="86.7" fill="#4472C4"/>
<line x1="780" y1="790.7" x2="780" y2="782.2" stroke="#5a5a5a" stroke-width="1.3"/>
<line x1="776.5" y1="782.2" x2="783.5" y2="782.2" stroke="#5a5a5a" stroke-width="1.3"/>
<rect x="797.5" y="798.2" width="35" height="79.2" fill="#ED7D31"/>
<line x1="815" y1="798.2" x2="815" y2="788.6" stroke="#5a5a5a" stroke-width="1.3"/>
<line x1="811.5" y1="788.6" x2="818.5" y2="788.6" stroke="#5a5a5a" stroke-width="1.3"/>
<rect x="860.8" y="838.6" width="35" height="38.8" fill="#4472C4"/>
<line x1="878.3" y1="838.6" x2="878.3" y2="837.8" stroke="#5a5a5a" stroke-width="1.3"/>
<line x1="874.8" y1="837.8" x2="881.8" y2="837.8" stroke="#5a5a5a" stroke-width="1.3"/>
<rect x="895.8" y="870" width="35" height="7.4" fill="#ED7D31"/>
<line x1="913.3" y1="870" x2="913.3" y2="867.9" stroke="#5a5a5a" stroke-width="1.3"/>
<line x1="909.8" y1="867.9" x2="916.8" y2="867.9" stroke="#5a5a5a" stroke-width="1.3"/>
<rect x="958" y="686" width="35" height="191.4" fill="#4472C4"/>
<line x1="975.5" y1="686" x2="975.5" y2="677.2" stroke="#5a5a5a" stroke-width="1.3"/>
<line x1="972" y1="677.2" x2="979" y2="677.2" stroke="#5a5a5a" stroke-width="1.3"/>
<rect x="993" y="818.6" width="35" height="58.8" fill="#ED7D31"/>
<line x1="1010.5" y1="818.6" x2="1010.5" y2="816.5" stroke="#5a5a5a" stroke-width="1.3"/>
<line x1="1007" y1="816.5" x2="1014" y2="816.5" stroke="#5a5a5a" stroke-width="1.3"/>
<line x1="688" y1="640.9" x2="971.2" y2="640.9" stroke="#2e2e2e" stroke-width="1.3"/>
<text transform="matrix(1.02 0 0 1 826.35 637.2)" font-size="12.8" font-weight="bold" fill="#1f1f1f" stroke="#1f1f1f" stroke-width="0.35">#</text>
<line x1="726" y1="657.3" x2="1008.4" y2="657.3" stroke="#2e2e2e" stroke-width="1.3"/>
<text transform="matrix(1.02 0 0 1 834.35 655.8)" font-size="12.8" font-weight="bold" fill="#1f1f1f" stroke="#1f1f1f" stroke-width="0.35">#</text>
<text transform="matrix(1.02 0 0 1 846.35 655.8)" font-size="12.8" font-weight="bold" fill="#1f1f1f" stroke="#1f1f1f" stroke-width="0.35">#</text>
<line x1="881.2" y1="671.9" x2="972.2" y2="671.9" stroke="#2e2e2e" stroke-width="1.3"/>
<text transform="matrix(1.02 0 0 1 919.95 671.8)" font-size="12.8" font-weight="bold" fill="#1f1f1f" stroke="#1f1f1f" stroke-width="0.35">#</text>
<text transform="matrix(1.02 0 0 1 931.95 671.8)" font-size="12.8" font-weight="bold" fill="#1f1f1f" stroke="#1f1f1f" stroke-width="0.35">#</text>
<line x1="976.5" y1="671.9" x2="1009.5" y2="671.9" stroke="#2e2e2e" stroke-width="1.3"/>
<text transform="matrix(1.02 0 0 1 986.05 671)" font-size="12.8" font-weight="bold" fill="#1f1f1f" stroke="#1f1f1f" stroke-width="0.35">#</text>
<text transform="matrix(1.02 0 0 1 998.05 671)" font-size="12.8" font-weight="bold" fill="#1f1f1f" stroke="#1f1f1f" stroke-width="0.35">#</text>
<line x1="716.6" y1="762.6" x2="814.6" y2="762.6" stroke="#2e2e2e" stroke-width="1.3"/>
<text transform="matrix(1.02 0 0 1 765.05 758.9)" font-size="12.8" font-weight="bold" fill="#1f1f1f" stroke="#1f1f1f" stroke-width="0.35">#</text>
<line x1="681.9" y1="775.3" x2="778.5" y2="775.3" stroke="#2e2e2e" stroke-width="1.3"/>
<text transform="matrix(1.02 0 0 1 719.85 773.6)" font-size="12.8" font-weight="bold" fill="#1f1f1f" stroke="#1f1f1f" stroke-width="0.35">#</text>
<line x1="681.9" y1="814.7" x2="715" y2="814.7" stroke="#2e2e2e" stroke-width="1.3"/>
<line x1="881.2" y1="829.5" x2="915.3" y2="829.5" stroke="#2e2e2e" stroke-width="1.3"/>
<text transform="matrix(1.25 0 0 1 685.77 902.8)" font-size="13.3" font-weight="normal" fill="#3b3b3b" stroke="#3b3b3b" stroke-width="0.15">Mat</text>
<text transform="matrix(1.16 0 0 1 661.63 921)" font-size="14.2" font-weight="normal" fill="#3b3b3b" stroke="#3b3b3b" stroke-width="0.15">0.2 mg/ml</text>
<text transform="matrix(1.25 0 0 1 783.87 902.8)" font-size="13.3" font-weight="normal" fill="#3b3b3b" stroke="#3b3b3b" stroke-width="0.15">Mat</text>
<text transform="matrix(1.16 0 0 1 761.25 921)" font-size="14.2" font-weight="normal" fill="#3b3b3b" stroke="#3b3b3b" stroke-width="0.15">3.5 mg/ml</text>
<text transform="matrix(1.08 0 0 1 883.89 902.8)" font-size="13.3" font-weight="normal" fill="#3b3b3b" stroke="#3b3b3b" stroke-width="0.15">Coll</text>
<text transform="matrix(1.16 0 0 1 852.83 921)" font-size="14.2" font-weight="normal" fill="#3b3b3b" stroke="#3b3b3b" stroke-width="0.15">0.2 mg/ml</text>
<text transform="matrix(1.08 0 0 1 981.19 902.8)" font-size="13.3" font-weight="normal" fill="#3b3b3b" stroke="#3b3b3b" stroke-width="0.15">Coll</text>
<text transform="matrix(1.16 0 0 1 952.15 921)" font-size="14.2" font-weight="normal" fill="#3b3b3b" stroke="#3b3b3b" stroke-width="0.15">3.5 mg/ml</text>
<rect x="654.5" y="709.2" width="7" height="7" fill="#4472C4"/>
<text transform="matrix(1.17 0 0 1 664.72 716.14)" font-size="10" font-weight="bold" fill="#5f5f5f">LoVo S</text>
<rect x="714.5" y="709.2" width="7" height="7" fill="#ED7D31"/>
<text transform="matrix(1.17 0 0 1 725.62 716.14)" font-size="10" font-weight="bold" fill="#5f5f5f">LoVo R</text>
<text transform="translate(604.7 856.44) rotate(-90) scale(1.19 1)" font-size="12.3" font-weight="normal" fill="#262626" stroke="#262626" stroke-width="0.12">Relative MMP9 expression</text>
<text transform="matrix(1.11 0 0 1 550.02 662.5)" font-size="14.5" font-weight="bold" fill="#111111">F)</text>
<line x1="83.5" y1="1212.4" x2="476" y2="1212.4" stroke="#D9D9D9" stroke-width="1.3"/>
<text transform="matrix(1 0 0 1 56.66 1216.76)" font-size="11.5" font-weight="normal" fill="#666666">0.0</text>
<text transform="matrix(1 0 0 1 56.7 1173.26)" font-size="11.5" font-weight="normal" fill="#666666">0.5</text>
<text transform="matrix(1 0 0 1 56.66 1129.76)" font-size="11.5" font-weight="normal" fill="#666666">1.0</text>
<text transform="matrix(1 0 0 1 56.7 1086.26)" font-size="11.5" font-weight="normal" fill="#666666">1,5</text>
<text transform="matrix(1 0 0 1 56.66 1042.76)" font-size="11.5" font-weight="normal" fill="#666666">2,0</text>
<text transform="matrix(1 0 0 1 56.7 999.26)" font-size="11.5" font-weight="normal" fill="#666666">2.5</text>
<rect x="97.9" y="1125.9" width="35" height="86.5" fill="#4472C4"/>
<line x1="115.4" y1="1125.9" x2="115.4" y2="1118.3" stroke="#5a5a5a" stroke-width="1.3"/>
<line x1="111.9" y1="1118.3" x2="118.9" y2="1118.3" stroke="#5a5a5a" stroke-width="1.3"/>
<rect x="132.9" y="1188.2" width="35" height="24.2" fill="#ED7D31"/>
<line x1="150.4" y1="1188.2" x2="150.4" y2="1184.7" stroke="#5a5a5a" stroke-width="1.3"/>
<line x1="146.9" y1="1184.7" x2="153.9" y2="1184.7" stroke="#5a5a5a" stroke-width="1.3"/>
<rect x="196" y="1124.7" width="35" height="87.7" fill="#4472C4"/>
<line x1="213.5" y1="1124.7" x2="213.5" y2="1120.7" stroke="#5a5a5a" stroke-width="1.3"/>
<line x1="210" y1="1120.7" x2="217" y2="1120.7" stroke="#5a5a5a" stroke-width="1.3"/>
<rect x="231" y="1166.6" width="35" height="45.8" fill="#ED7D31"/>
<line x1="248.5" y1="1166.6" x2="248.5" y2="1160.6" stroke="#5a5a5a" stroke-width="1.3"/>
<line x1="245" y1="1160.6" x2="252" y2="1160.6" stroke="#5a5a5a" stroke-width="1.3"/>
<rect x="292.9" y="1098.3" width="35" height="114.1" fill="#4472C4"/>
<line x1="310.4" y1="1098.3" x2="310.4" y2="1092.8" stroke="#5a5a5a" stroke-width="1.3"/>
<line x1="306.9" y1="1092.8" x2="313.9" y2="1092.8" stroke="#5a5a5a" stroke-width="1.3"/>
<rect x="327.9" y="1196.7" width="35" height="15.7" fill="#ED7D31"/>
<line x1="345.4" y1="1196.7" x2="345.4" y2="1195.7" stroke="#5a5a5a" stroke-width="1.3"/>
<line x1="341.9" y1="1195.7" x2="348.9" y2="1195.7" stroke="#5a5a5a" stroke-width="1.3"/>
<rect x="391.8" y="1045.6" width="35" height="166.8" fill="#4472C4"/>
<line x1="409.3" y1="1045.6" x2="409.3" y2="1038.2" stroke="#5a5a5a" stroke-width="1.3"/>
<line x1="405.8" y1="1038.2" x2="412.8" y2="1038.2" stroke="#5a5a5a" stroke-width="1.3"/>
<rect x="426.8" y="1185.8" width="35" height="26.6" fill="#ED7D31"/>
<line x1="444.3" y1="1185.8" x2="444.3" y2="1185" stroke="#5a5a5a" stroke-width="1.3"/>
<line x1="440.8" y1="1185" x2="447.8" y2="1185" stroke="#5a5a5a" stroke-width="1.3"/>
<line x1="115.2" y1="1001" x2="404.7" y2="1001" stroke="#2e2e2e" stroke-width="1.3"/>
<text transform="matrix(1.02 0 0 1 235.35 998)" font-size="12.8" font-weight="bold" fill="#1f1f1f" stroke="#1f1f1f" stroke-width="0.35">#</text>
<line x1="151.7" y1="1016" x2="441" y2="1016" stroke="#2e2e2e" stroke-width="1.3"/>
<text transform="matrix(1.02 0 0 1 271.85 1016.1)" font-size="12.8" font-weight="bold" fill="#1f1f1f" stroke="#1f1f1f" stroke-width="0.35">#</text>
<line x1="408.3" y1="1030.8" x2="441.6" y2="1030.8" stroke="#2e2e2e" stroke-width="1.3"/>
<text transform="matrix(1.02 0 0 1 413.45 1028.9)" font-size="12.8" font-weight="bold" fill="#1f1f1f" stroke="#1f1f1f" stroke-width="0.35">#</text>
<text transform="matrix(1.02 0 0 1 425.45 1028.9)" font-size="12.8" font-weight="bold" fill="#1f1f1f" stroke="#1f1f1f" stroke-width="0.35">#</text>
<line x1="314.9" y1="1083" x2="349.3" y2="1083" stroke="#2e2e2e" stroke-width="1.3"/>
<text transform="matrix(1.02 0 0 1 322.45 1080.5)" font-size="12.8" font-weight="bold" fill="#1f1f1f" stroke="#1f1f1f" stroke-width="0.35">#</text>
<text transform="matrix(1.02 0 0 1 334.45 1080.5)" font-size="12.8" font-weight="bold" fill="#1f1f1f" stroke="#1f1f1f" stroke-width="0.35">#</text>
<line x1="118.8" y1="1113.2" x2="151.7" y2="1113.2" stroke="#2e2e2e" stroke-width="1.3"/>
<text transform="matrix(1.02 0 0 1 128.55 1112.1)" font-size="12.8" font-weight="bold" fill="#1f1f1f" stroke="#1f1f1f" stroke-width="0.35">#</text>
<line x1="218.7" y1="1113.2" x2="252.1" y2="1113.2" stroke="#2e2e2e" stroke-width="1.3"/>
<text transform="matrix(1.02 0 0 1 233.75 1112)" font-size="12.8" font-weight="bold" fill="#1f1f1f" stroke="#1f1f1f" stroke-width="0.35">#</text>
<text transform="matrix(1.25 0 0 1 119.37 1237.8)" font-size="13.3" font-weight="normal" fill="#3b3b3b" stroke="#3b3b3b" stroke-width="0.15">Mat</text>
<text transform="matrix(1.16 0 0 1 99.83 1255.6)" font-size="14.2" font-weight="normal" fill="#3b3b3b" stroke="#3b3b3b" stroke-width="0.15">0.2 mg/ml</text>
<text transform="matrix(1.25 0 0 1 217.67 1237.8)" font-size="13.3" font-weight="normal" fill="#3b3b3b" stroke="#3b3b3b" stroke-width="0.15">Mat</text>
<text transform="matrix(1.16 0 0 1 198.65 1255.6)" font-size="14.2" font-weight="normal" fill="#3b3b3b" stroke="#3b3b3b" stroke-width="0.15">3.5 mg/ml</text>
<text transform="matrix(1.08 0 0 1 316.79 1237.8)" font-size="13.3" font-weight="normal" fill="#3b3b3b" stroke="#3b3b3b" stroke-width="0.15">Coll</text>
<text transform="matrix(1.16 0 0 1 290.83 1255.6)" font-size="14.2" font-weight="normal" fill="#3b3b3b" stroke="#3b3b3b" stroke-width="0.15">0.2 mg/ml</text>
<text transform="matrix(1.08 0 0 1 414.99 1237.8)" font-size="13.3" font-weight="normal" fill="#3b3b3b" stroke="#3b3b3b" stroke-width="0.15">Coll</text>
<text transform="matrix(1.16 0 0 1 390.45 1255.6)" font-size="14.2" font-weight="normal" fill="#3b3b3b" stroke="#3b3b3b" stroke-width="0.15">3.5 mg/ml</text>
<rect x="90.5" y="1031.8" width="7" height="7" fill="#4472C4"/>
<text transform="matrix(1.16 0 0 1 101.52 1038.74)" font-size="10" font-weight="bold" fill="#5f5f5f">LoVo S</text>
<rect x="154" y="1031.8" width="7" height="7" fill="#ED7D31"/>
<text transform="matrix(1.17 0 0 1 163.82 1038.74)" font-size="10" font-weight="bold" fill="#5f5f5f">LoVo R</text>
<text transform="translate(35.3 1195.64) rotate(-90) scale(1.19 1)" font-size="12.3" font-weight="normal" fill="#262626" stroke="#262626" stroke-width="0.12">Relative MMP14 expression</text>
<text transform="matrix(0.97 0 0 1 18.82 992)" font-size="14.5" font-weight="bold" fill="#111111">G)</text>
<line x1="652" y1="1211.8" x2="1045" y2="1211.8" stroke="#D9D9D9" stroke-width="1.3"/>
<text transform="matrix(1 0 0 1 623.66 1216.16)" font-size="11.5" font-weight="normal" fill="#666666">0,0</text>
<text transform="matrix(1 0 0 1 623.7 1172.86)" font-size="11.5" font-weight="normal" fill="#666666">0.5</text>
<text transform="matrix(1 0 0 1 623.66 1129.56)" font-size="11.5" font-weight="normal" fill="#666666">1,0</text>
<text transform="matrix(1 0 0 1 623.7 1086.26)" font-size="11.5" font-weight="normal" fill="#666666">1,5</text>
<text transform="matrix(1 0 0 1 623.66 1042.96)" font-size="11.5" font-weight="normal" fill="#666666">2.0</text>
<text transform="matrix(1 0 0 1 623.7 999.66)" font-size="11.5" font-weight="normal" fill="#666666">2.5</text>
<rect x="665.2" y="1126" width="35" height="85.8" fill="#4472C4"/>
<line x1="682.7" y1="1126" x2="682.7" y2="1117.4" stroke="#5a5a5a" stroke-width="1.3"/>
<line x1="679.2" y1="1117.4" x2="686.2" y2="1117.4" stroke="#5a5a5a" stroke-width="1.3"/>
<rect x="700.2" y="1121.3" width="35" height="90.5" fill="#ED7D31"/>
<line x1="717.7" y1="1121.3" x2="717.7" y2="1117.6" stroke="#5a5a5a" stroke-width="1.3"/>
<line x1="714.2" y1="1117.6" x2="721.2" y2="1117.6" stroke="#5a5a5a" stroke-width="1.3"/>
<rect x="763.6" y="1052.1" width="35" height="159.7" fill="#4472C4"/>
<line x1="781.1" y1="1052.1" x2="781.1" y2="1043.7" stroke="#5a5a5a" stroke-width="1.3"/>
<line x1="777.6" y1="1043.7" x2="784.6" y2="1043.7" stroke="#5a5a5a" stroke-width="1.3"/>
<rect x="798.6" y="1118.3" width="35" height="93.5" fill="#ED7D31"/>
<line x1="816.1" y1="1118.3" x2="816.1" y2="1109" stroke="#5a5a5a" stroke-width="1.3"/>
<line x1="812.6" y1="1109" x2="819.6" y2="1109" stroke="#5a5a5a" stroke-width="1.3"/>
<rect x="861.6" y="1138.5" width="35" height="73.3" fill="#4472C4"/>
<line x1="879.1" y1="1138.5" x2="879.1" y2="1133.7" stroke="#5a5a5a" stroke-width="1.3"/>
<line x1="875.6" y1="1133.7" x2="882.6" y2="1133.7" stroke="#5a5a5a" stroke-width="1.3"/>
<rect x="896.6" y="1127.8" width="35" height="84" fill="#ED7D31"/>
<line x1="914.1" y1="1127.8" x2="914.1" y2="1123" stroke="#5a5a5a" stroke-width="1.3"/>
<line x1="910.6" y1="1123" x2="917.6" y2="1123" stroke="#5a5a5a" stroke-width="1.3"/>
<rect x="958.8" y="1030.4" width="35" height="181.4" fill="#4472C4"/>
<line x1="976.3" y1="1030.4" x2="976.3" y2="1015.8" stroke="#5a5a5a" stroke-width="1.3"/>
<line x1="972.8" y1="1015.8" x2="979.8" y2="1015.8" stroke="#5a5a5a" stroke-width="1.3"/>
<rect x="993.8" y="1097.8" width="35" height="114" fill="#ED7D31"/>
<line x1="1011.3" y1="1097.8" x2="1011.3" y2="1085.8" stroke="#5a5a5a" stroke-width="1.3"/>
<line x1="1007.8" y1="1085.8" x2="1014.8" y2="1085.8" stroke="#5a5a5a" stroke-width="1.3"/>
<line x1="686" y1="991.2" x2="973.8" y2="991.2" stroke="#2e2e2e" stroke-width="1.3"/>
<text transform="matrix(1.02 0 0 1 810.35 988.2)" font-size="12.8" font-weight="bold" fill="#1f1f1f" stroke="#1f1f1f" stroke-width="0.35">#</text>
<line x1="686" y1="1030.7" x2="775.3" y2="1030.7" stroke="#2e2e2e" stroke-width="1.3"/>
<text transform="matrix(1.02 0 0 1 729.55 1031.4)" font-size="12.8" font-weight="bold" fill="#1f1f1f" stroke="#1f1f1f" stroke-width="0.35">#</text>
<line x1="783.3" y1="1030.5" x2="816.7" y2="1030.5" stroke="#2e2e2e" stroke-width="1.3"/>
<text transform="matrix(1.02 0 0 1 792.85 1031.1)" font-size="12.8" font-weight="bold" fill="#1f1f1f" stroke="#1f1f1f" stroke-width="0.35">#</text>
<line x1="884.6" y1="1010.7" x2="974.4" y2="1010.7" stroke="#2e2e2e" stroke-width="1.3"/>
<text transform="matrix(1.02 0 0 1 919.35 1010.3)" font-size="12.8" font-weight="bold" fill="#1f1f1f" stroke="#1f1f1f" stroke-width="0.35">#</text>
<text transform="matrix(1.25 0 0 1 686.27 1238.2)" font-size="13.3" font-weight="normal" fill="#3b3b3b" stroke="#3b3b3b" stroke-width="0.15">Mat</text>
<text transform="matrix(1.16 0 0 1 661.63 1255.5)" font-size="14.2" font-weight="normal" fill="#3b3b3b" stroke="#3b3b3b" stroke-width="0.15">0.2 mg/ml</text>
<text transform="matrix(1.25 0 0 1 784.77 1238.2)" font-size="13.3" font-weight="normal" fill="#3b3b3b" stroke="#3b3b3b" stroke-width="0.15">Mat</text>
<text transform="matrix(1.16 0 0 1 761.25 1255.5)" font-size="14.2" font-weight="normal" fill="#3b3b3b" stroke="#3b3b3b" stroke-width="0.15">3.5 mg/ml</text>
<text transform="matrix(1.08 0 0 1 884.79 1238.2)" font-size="13.3" font-weight="normal" fill="#3b3b3b" stroke="#3b3b3b" stroke-width="0.15">Coll</text>
<text transform="matrix(1.16 0 0 1 852.83 1255.5)" font-size="14.2" font-weight="normal" fill="#3b3b3b" stroke="#3b3b3b" stroke-width="0.15">0.2 mg/ml</text>
<text transform="matrix(1.08 0 0 1 982.09 1238.2)" font-size="13.3" font-weight="normal" fill="#3b3b3b" stroke="#3b3b3b" stroke-width="0.15">Coll</text>
<text transform="matrix(1.16 0 0 1 952.15 1255.5)" font-size="14.2" font-weight="normal" fill="#3b3b3b" stroke="#3b3b3b" stroke-width="0.15">3.5 mg/ml</text>
<rect x="653.7" y="974.6" width="7" height="7" fill="#4472C4"/>
<text transform="matrix(1.16 0 0 1 664.03 981.54)" font-size="10" font-weight="bold" fill="#5f5f5f">LoVo S</text>
<rect x="713.7" y="974.6" width="7" height="7" fill="#ED7D31"/>
<text transform="matrix(1.16 0 0 1 724.62 981.54)" font-size="10" font-weight="bold" fill="#5f5f5f">LoVo R</text>
<text transform="translate(604.7 1186.38) rotate(-90) scale(1.13 1)" font-size="12.3" font-weight="normal" fill="#262626" stroke="#262626" stroke-width="0.12">Relative HPSE expression</text>
<text transform="matrix(1.05 0 0 1 551.08 992)" font-size="14.5" font-weight="bold" fill="#111111">H)</text>
<rect x="421.6" y="436" width="33.5" height="2" fill="#713a14"/>
<text transform="matrix(1.03 0 0 1 550.7 30.5)" font-size="14.5" font-weight="bold" fill="#111111">B)</text>
<rect x="603.6" y="71.6" width="101.4" height="3" fill="#000"/>
<text transform="matrix(1.24 0 0 1 646.68 38.6)" font-size="14.5" font-weight="normal" fill="#2e2e2e" stroke="#2e2e2e" stroke-width="0.2">Mat</text>
<text transform="matrix(1.14 0 0 1 625.86 59)" font-size="14.5" font-weight="normal" fill="#2e2e2e" stroke="#2e2e2e" stroke-width="0.2">0.2 mg/ml</text>
<rect x="725.4" y="71.6" width="94.1" height="3" fill="#000"/>
<text transform="matrix(1.24 0 0 1 749.08 38.6)" font-size="14.5" font-weight="normal" fill="#2e2e2e" stroke="#2e2e2e" stroke-width="0.2">Mat</text>
<text transform="matrix(1.14 0 0 1 728.27 59)" font-size="14.5" font-weight="normal" fill="#2e2e2e" stroke="#2e2e2e" stroke-width="0.2">3.5 mg/ml</text>
<rect x="832.3" y="71.6" width="97.1" height="3" fill="#000"/>
<text transform="matrix(1.09 0 0 1 863.85 38.6)" font-size="14.5" font-weight="normal" fill="#2e2e2e" stroke="#2e2e2e" stroke-width="0.2">Coll</text>
<text transform="matrix(1.14 0 0 1 840.86 59)" font-size="14.5" font-weight="normal" fill="#2e2e2e" stroke="#2e2e2e" stroke-width="0.2">0.2 mg/ml</text>
<rect x="943.3" y="71.6" width="99.1" height="3" fill="#000"/>
<text transform="matrix(1.09 0 0 1 976.85 38.6)" font-size="14.5" font-weight="normal" fill="#2e2e2e" stroke="#2e2e2e" stroke-width="0.2">Coll</text>
<text transform="matrix(1.14 0 0 1 953.87 59)" font-size="14.5" font-weight="normal" fill="#2e2e2e" stroke="#2e2e2e" stroke-width="0.2">3.5 mg/ml</text>
<rect x="611.4" y="103" width="39.9" height="3.2" fill="#000"/>
<text transform="matrix(1.05 0 0 1 611.98 95.3)" font-size="11.3" font-weight="normal" fill="#262626" stroke="#262626" stroke-width="0.1">LoVo S</text>
<rect x="666" y="104" width="39" height="3.2" fill="#000"/>
<text transform="matrix(1 0 0 1 666.62 95.3)" font-size="11.3" font-weight="normal" fill="#262626" stroke="#262626" stroke-width="0.1">LoVo R</text>
<rect x="721" y="104" width="40.2" height="3.2" fill="#000"/>
<text transform="matrix(1.06 0 0 1 721.57 95.3)" font-size="11.3" font-weight="normal" fill="#262626" stroke="#262626" stroke-width="0.1">LoVo S</text>
<rect x="778.5" y="104" width="40.3" height="3.2" fill="#000"/>
<text transform="matrix(1.04 0 0 1 779.09 95.3)" font-size="11.3" font-weight="normal" fill="#262626" stroke="#262626" stroke-width="0.1">LoVo R</text>
<rect x="834" y="104" width="40.5" height="3.2" fill="#000"/>
<text transform="matrix(1.06 0 0 1 834.56 95.3)" font-size="11.3" font-weight="normal" fill="#262626" stroke="#262626" stroke-width="0.1">LoVo S</text>
<rect x="890" y="104" width="40" height="3.2" fill="#000"/>
<text transform="matrix(1.03 0 0 1 890.59 95.3)" font-size="11.3" font-weight="normal" fill="#262626" stroke="#262626" stroke-width="0.1">LoVo R</text>
<rect x="943.3" y="104" width="39.7" height="3.2" fill="#000"/>
<text transform="matrix(1.04 0 0 1 943.88 95.3)" font-size="11.3" font-weight="normal" fill="#262626" stroke="#262626" stroke-width="0.1">LoVo S</text>
<rect x="1002" y="104" width="40.4" height="3.2" fill="#000"/>
<text transform="matrix(1.04 0 0 1 1002.58 95.3)" font-size="11.3" font-weight="normal" fill="#262626" stroke="#262626" stroke-width="0.1">LoVo R</text>
<text transform="matrix(1.1 0 0 1 513.4 120.3)" font-size="13.5" font-weight="normal" fill="#3b3b3b" stroke="#3b3b3b" stroke-width="0.25">E-Cad</text>
<text transform="matrix(1.14 0 0 1 513.46 141)" font-size="13.5" font-weight="normal" fill="#3b3b3b" stroke="#3b3b3b" stroke-width="0.25">135 kDa</text>
<text transform="matrix(1.05 0 0 1 513.91 197.3)" font-size="13.5" font-weight="normal" fill="#3b3b3b" stroke="#3b3b3b" stroke-width="0.25">GAPDH</text>
<text transform="matrix(1.12 0 0 1 514.05 218)" font-size="13.5" font-weight="normal" fill="#3b3b3b" stroke="#3b3b3b" stroke-width="0.25">36 kDa</text>
</g>
</svg>
</body></html>
